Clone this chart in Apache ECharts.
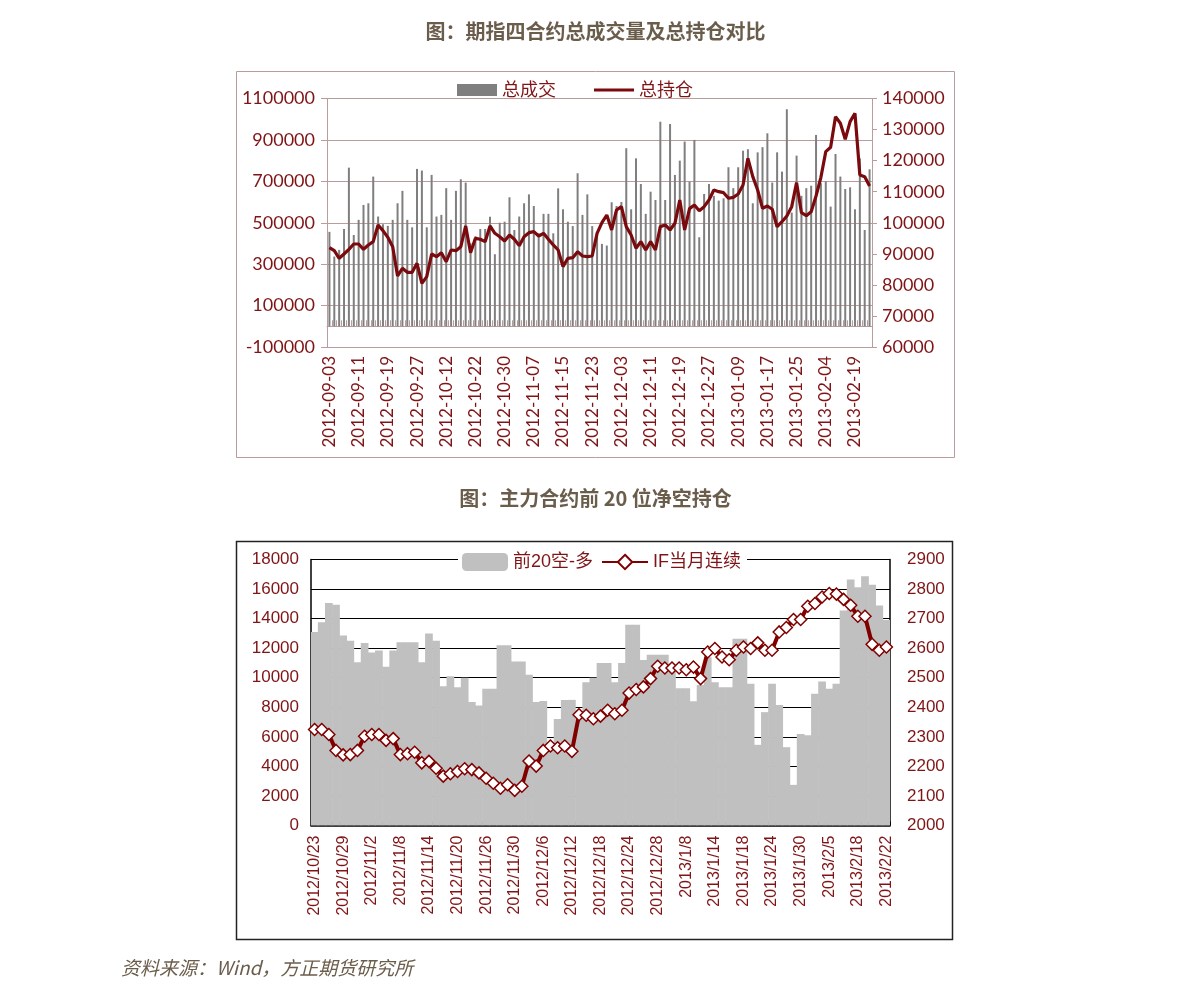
<!DOCTYPE html>
<html>
<head>
<meta charset="utf-8">
<script src="https://cdn.jsdelivr.net/npm/echarts@6/dist/echarts.min.js"></script>
<style>
  html, body { margin: 0; padding: 0; background: #fff; }
  #main { width: 1191px; height: 1000px; }
</style>
</head>
<body>
<div id="main"></div>
<script>
// 图一：期指四合约总成交量及总持仓
const dates1 = [
  '2012-09-03','2012-09-04','2012-09-05','2012-09-06','2012-09-07','2012-09-10','2012-09-11','2012-09-12','2012-09-13','2012-09-14',
  '2012-09-17','2012-09-18','2012-09-19','2012-09-20','2012-09-21','2012-09-24','2012-09-25','2012-09-26','2012-09-27','2012-09-28',
  '2012-10-08','2012-10-09','2012-10-10','2012-10-11','2012-10-12','2012-10-15','2012-10-16','2012-10-17','2012-10-18','2012-10-19',
  '2012-10-22','2012-10-23','2012-10-24','2012-10-25','2012-10-26','2012-10-29','2012-10-30','2012-10-31','2012-11-01','2012-11-02',
  '2012-11-05','2012-11-06','2012-11-07','2012-11-08','2012-11-09','2012-11-12','2012-11-13','2012-11-14','2012-11-15','2012-11-16',
  '2012-11-19','2012-11-20','2012-11-21','2012-11-22','2012-11-23','2012-11-26','2012-11-27','2012-11-28','2012-11-29','2012-11-30',
  '2012-12-03','2012-12-04','2012-12-05','2012-12-06','2012-12-07','2012-12-10','2012-12-11','2012-12-12','2012-12-13','2012-12-14',
  '2012-12-17','2012-12-18','2012-12-19','2012-12-20','2012-12-21','2012-12-24','2012-12-25','2012-12-26','2012-12-27','2012-12-28',
  '2012-12-31','2013-01-04','2013-01-07','2013-01-08','2013-01-09','2013-01-10','2013-01-11','2013-01-14','2013-01-15','2013-01-16',
  '2013-01-17','2013-01-18','2013-01-21','2013-01-22','2013-01-23','2013-01-24','2013-01-25','2013-01-28','2013-01-29','2013-01-30',
  '2013-01-31','2013-02-01','2013-02-04','2013-02-05','2013-02-06','2013-02-07','2013-02-08','2013-02-18','2013-02-19','2013-02-20',
  '2013-02-21','2013-02-22'
];
const totalVolume = [
  456000, 337000, 369000, 470000, 766000, 441000, 514000, 586000, 594000, 723000,
  530000, 493000, 485000, 514000, 594000, 654000, 514000, 478000, 760000, 752000,
  478000, 731000, 530000, 538000, 667000, 514000, 654000, 710000, 694000, 400000,
  435000, 470000, 470000, 529000, 348000, 500000, 505000, 623000, 465000, 530000,
  594000, 637000, 581000, 449000, 543000, 543000, 449000, 666000, 565000, 505000,
  484000, 739000, 538000, 637000, 484000, 449000, 398000, 390000, 599000, 581000,
  600000, 860000, 565000, 811000, 687000, 543000, 650000, 610000, 988000, 610000,
  977000, 731000, 800000, 892000, 699000, 900000, 430000, 639000, 687000, 630000,
  607000, 618000, 768000, 667000, 768000, 848000, 855000, 594000, 840000, 865000,
  932000, 694000, 840000, 747000, 1048000, 549000, 824000, 630000, 667000, 679000,
  924000, 691000, 700000, 578000, 832000, 723000, 663000, 671000, 565000, 811000,
  465000, 758000
];
const totalOI = [
  91980, 91000, 88550, 89940, 91450, 93160, 93160, 91450, 92840, 93910,
  99280, 97460, 95310, 92300, 82860, 85330, 84040, 84040, 86940, 80500,
  82640, 89940, 89080, 90370, 87470, 91230, 91010, 92300, 98960, 90370,
  94990, 94670, 93910, 98960, 96600, 95510, 94120, 96060, 94670, 92630,
  95520, 96810, 97130, 95740, 96600, 94670, 92840, 91230, 85860, 88550,
  88760, 90690, 89300, 89080, 89300, 96600, 100030, 102500, 97670, 104110,
  105190, 98750, 96060, 91770, 93910, 91230, 93910, 91230, 98750, 99280,
  97670, 99820, 107330, 97670, 104540, 105720, 103890, 105180, 107330, 110550,
  110000, 109680, 107870, 108190, 109260, 112160, 120750, 114840, 110550, 104650,
  105400, 104330, 98730, 100340, 102180, 105180, 112910, 103240, 102270, 103560,
  108620, 114630, 122890, 124290, 134150, 132010, 126860, 132540, 135240, 115380,
  114840, 111840
];

// 图二：主力合约前20位净空持仓
const dates2 = [
  '2012/10/23','2012/10/24','2012/10/25','2012/10/26','2012/10/29','2012/10/30','2012/10/31',
  '2012/11/1','2012/11/2','2012/11/5','2012/11/6','2012/11/7','2012/11/8','2012/11/9','2012/11/12','2012/11/13',
  '2012/11/14','2012/11/15','2012/11/16','2012/11/19','2012/11/20','2012/11/21','2012/11/22','2012/11/23',
  '2012/11/26','2012/11/27','2012/11/28','2012/11/29','2012/11/30',
  '2012/12/3','2012/12/4','2012/12/5','2012/12/6','2012/12/7','2012/12/10','2012/12/11','2012/12/12','2012/12/13',
  '2012/12/14','2012/12/17','2012/12/18','2012/12/19','2012/12/20','2012/12/21','2012/12/24','2012/12/25',
  '2012/12/26','2012/12/27','2012/12/28','2012/12/31',
  '2013/1/4','2013/1/7','2013/1/8','2013/1/9','2013/1/10','2013/1/11','2013/1/14','2013/1/15','2013/1/16',
  '2013/1/17','2013/1/18','2013/1/21','2013/1/22','2013/1/23','2013/1/24','2013/1/25','2013/1/28','2013/1/29',
  '2013/1/30','2013/1/31',
  '2013/2/1','2013/2/4','2013/2/5','2013/2/6','2013/2/7','2013/2/8','2013/2/18','2013/2/19','2013/2/20',
  '2013/2/21','2013/2/22'
];
const netShort = [
  13100, 13750, 15050, 14930, 12850, 12500, 11050, 12350, 11700, 11850,
  10750, 11850, 12400, 12400, 12400, 11050, 13000, 12500, 9430, 10100,
  9360, 10000, 8350, 8120, 9250, 9250, 12200, 12200, 11100, 11100,
  10200, 8350, 8420, 5400, 7200, 8500, 8500, 7200, 9700, 10000,
  11000, 11000, 9700, 11000, 13580, 13580, 11200, 11550, 11550, 11550,
  10380, 9290, 9290, 8410, 9500, 11390, 9700, 9360, 9360, 12630,
  12630, 9590, 5460, 7670, 9590, 8160, 5300, 2750, 6200, 6100,
  8910, 9740, 9250, 9590, 14550, 16640, 16120, 16870, 16290, 14885,
  13900
];
const ifMonth = [
  2325, 2325, 2308, 2254, 2239, 2240, 2254, 2302, 2308, 2308,
  2288, 2294, 2240, 2243, 2248, 2212, 2217, 2194, 2167, 2175,
  2183, 2192, 2189, 2178, 2160, 2143, 2126, 2138, 2119, 2133,
  2218, 2201, 2254, 2269, 2263, 2269, 2251, 2375, 2373, 2361,
  2370, 2390, 2378, 2390, 2448, 2460, 2469, 2497, 2539, 2533,
  2533, 2533, 2527, 2536, 2497, 2587, 2599, 2570, 2561, 2593,
  2604, 2599, 2618, 2593, 2593, 2655, 2670, 2697, 2697, 2742,
  2751, 2773, 2785, 2783, 2765, 2745, 2708, 2708, 2613, 2593,
  2604
];

const red = '#7f1416';
const rose = '#b99c9c';
const brown = '#6b5d4b';
const font1 = 'Lato, "Noto Sans CJK SC", sans-serif';
const font2 = '"Liberation Sans", "Noto Sans CJK SC", sans-serif';
const plain = v => String(v);

const myChart = echarts.init(document.getElementById('main'));

const option = {
  animation: false,
  title: [
    {
      text: '图：期指四合约总成交量及总持仓对比',
      left: 'center', top: 16,
      textStyle: { color: brown, fontSize: 20, fontWeight: 'bold', fontFamily: '"Noto Sans CJK SC"' }
    },
    {
      text: '图：主力合约前 20 位净空持仓',
      left: 'center', top: 483,
      textStyle: { color: brown, fontSize: 20, fontWeight: 'bold', fontFamily: '"Noto Sans CJK SC"' }
    },
    {
      text: '资料来源：Wind，方正期货研究所',
      left: 116, top: 953,
      textStyle: { color: brown, fontSize: 19, fontWeight: 'normal', fontStyle: 'italic', fontFamily: '"Noto Sans CJK SC"' }
    }
  ],
  graphic: [
    { type: 'rect', shape: { x: 236.5, y: 71.5, width: 718, height: 386 }, style: { fill: null, stroke: rose, lineWidth: 1 } },
    { type: 'rect', shape: { x: 236.5, y: 541.5, width: 716, height: 398 }, style: { fill: null, stroke: '#222', lineWidth: 1.5 } }
  ],
  legend: [
    {
      data: [
        { name: '总成交', icon: 'rect' },
        { name: '总持仓', icon: 'path://M0,0 L40,0 L40,3 L0,3 Z' }
      ],
      left: 452, top: 76, itemGap: 38, itemWidth: 40, itemHeight: 12,
      textStyle: { color: red, fontSize: 18, fontFamily: font1 }
    },
    {
      data: [{ name: '前20空-多', icon: 'roundRect' }, { name: 'IF当月连续' }],
      left: 458, top: 551, itemGap: 8, itemWidth: 46, itemHeight: 18,
      backgroundColor: '#fff', padding: [2, 6, 2, 4],
      textStyle: { color: red, fontSize: 18, fontFamily: font2 }
    }
  ],
  grid: [
    { left: 327, right: 319, top: 98.5, height: 248.5 },
    { left: 311, right: 301, top: 559.5, height: 266 }
  ],
  xAxis: [
    {
      gridIndex: 0, type: 'category', data: dates1, position: 'bottom',
      axisLine: { show: false, onZero: false }, axisTick: { show: false },
      axisLabel: { rotate: 90, interval: 5, margin: 9, color: red, fontSize: 17, fontFamily: font1 }
    },
    {
      gridIndex: 0, type: 'category', data: dates1,
      axisLine: { onZero: true, lineStyle: { color: rose, width: 1 } },
      axisTick: { show: true, interval: 0, length: 6, lineStyle: { color: rose } },
      axisLabel: { show: false }
    },
    {
      gridIndex: 1, type: 'category', data: dates2,
      axisLine: { lineStyle: { color: '#000', width: 1.5 } },
      axisTick: { show: true, interval: 0, inside: true, length: 4, lineStyle: { color: '#000' } },
      axisLabel: { rotate: 90, interval: 3, margin: 10, color: red, fontSize: 16, fontFamily: font2 }
    }
  ],
  yAxis: [
    {
      gridIndex: 0, type: 'value', min: -100000, max: 1100000, interval: 200000,
      axisLine: { show: true, lineStyle: { color: rose } },
      axisTick: { show: true, length: 6, lineStyle: { color: rose } },
      splitLine: { lineStyle: { color: rose, width: 1.2 } },
      axisLabel: { margin: 12, color: red, fontSize: 18, fontFamily: font1, formatter: plain }
    },
    {
      gridIndex: 0, type: 'value', position: 'right', min: 60000, max: 140000, interval: 10000,
      axisLine: { show: true, lineStyle: { color: rose } },
      axisTick: { show: true, length: 5, lineStyle: { color: rose } },
      splitLine: { show: false },
      axisLabel: { margin: 10, color: red, fontSize: 18, fontFamily: font1, formatter: plain }
    },
    {
      gridIndex: 1, type: 'value', min: 0, max: 18000, interval: 2000,
      axisLine: { show: true, lineStyle: { color: '#000', width: 1.5 } },
      axisTick: { show: false },
      splitLine: { lineStyle: { color: '#000', width: 1.2 } },
      axisLabel: { margin: 12, color: red, fontSize: 17, fontFamily: font2, formatter: plain }
    },
    {
      gridIndex: 1, type: 'value', position: 'right', min: 2000, max: 2900, interval: 100,
      axisLine: { show: true, lineStyle: { color: '#000', width: 1.5 } },
      axisTick: { show: true, inside: true, length: 5, lineStyle: { color: '#000' } },
      splitLine: { show: false },
      axisLabel: { margin: 17, color: red, fontSize: 17, fontFamily: font2, formatter: plain }
    }
  ],
  series: [
    {
      name: '总成交', type: 'bar', xAxisIndex: 0, yAxisIndex: 0,
      data: totalVolume, barWidth: 2,
      itemStyle: { color: '#7f7f7f' }
    },
    {
      name: '总持仓', type: 'line', xAxisIndex: 0, yAxisIndex: 1,
      data: totalOI, symbol: 'none',
      lineStyle: { color: '#7a0a0d', width: 3.2 }, itemStyle: { color: '#7a0a0d' }
    },
    {
      name: '前20空-多', type: 'bar', xAxisIndex: 2, yAxisIndex: 2,
      data: netShort, barWidth: '108%',
      itemStyle: { color: '#c0c0c0' }
    },
    {
      name: 'IF当月连续', type: 'line', xAxisIndex: 2, yAxisIndex: 3,
      data: ifMonth, symbol: 'diamond', symbolSize: 12, showAllSymbol: true,
      lineStyle: { color: '#800000', width: 4 },
      itemStyle: { color: '#fff', borderColor: '#800000', borderWidth: 1.5 }
    }
  ]
};

myChart.setOption(option);
</script>
</body>
</html>
